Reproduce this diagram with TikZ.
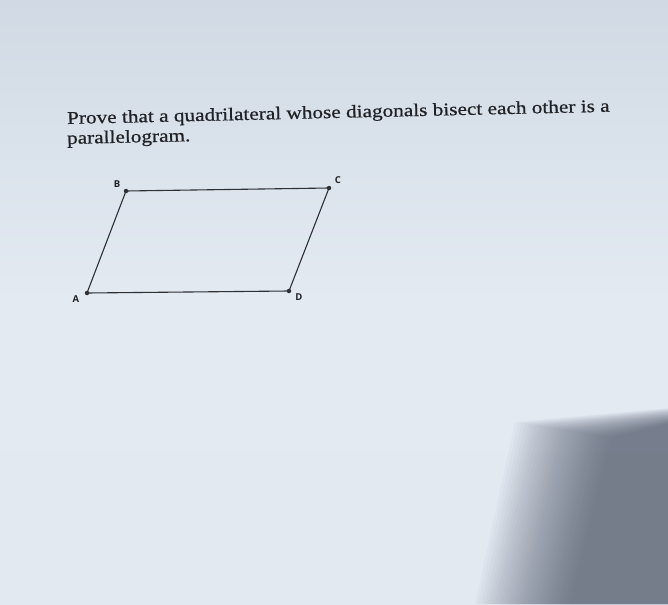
\documentclass[tikz,border=0pt]{standalone}
\usepackage{fontspec}
\setmainfont{Liberation Serif}[FakeBold=0.6]
\newfontfamily\labelfont{Open Sans}
\definecolor{bgtop}{HTML}{D1DAE4}
\definecolor{bgmid}{HTML}{E3EAF2}
\definecolor{bgbot}{HTML}{E2E9F1}
\definecolor{shadowc}{HTML}{40485A}
\definecolor{ink}{HTML}{202226}
\definecolor{pen}{HTML}{2E3034}
\tikzset{
  question/.style={anchor=base west, inner sep=0pt, text=ink, font=\fontsize{18}{21}\selectfont, rotate=1.3, xscale=1.18},
  ptlabel/.style={inner sep=0pt, text=ink, font=\labelfont\bfseries\fontsize{9.5}{10}\selectfont},
  vertex/.style={circle, fill=pen, inner sep=0pt, minimum size=4.5pt},
  edge/.style={draw=pen, line width=1.1pt}
}
\begin{document}
\begin{tikzpicture}[x=1pt,y=-1pt]
\useasboundingbox (0,0) rectangle (668,604);
\shade[top color=bgtop, bottom color=bgbot, middle color=bgmid] (0,0) rectangle (668,604);
% shadow at the bottom right
\foreach \i in {0,...,29}{
  \fill[shadowc, opacity=0.033]
    ({515+\i*3.3},{422+\i*0.55}) -- (668,{408+\i*0.55}) -- (668,604) -- ({475+\i*3.3},604) -- cycle;
}
% question text
\node[question] (t1) at (67,124) {Prove that a quadrilateral whose diagonals bisect each other is a};
\node[question] (t2) at (67,144) {parallelogram.};
% parallelogram
\node[vertex] (A) at (87,293) {};
\node[vertex] (B) at (126,191) {};
\node[vertex] (C) at (329,188) {};
\node[vertex] (D) at (289,291) {};
\draw[edge] (A.center) -- (B.center) -- (C.center) -- (D.center) -- cycle;
\node[ptlabel] (lA) at (76,299) {A};
\node[ptlabel] (lB) at (117,184) {B};
\node[ptlabel] (lC) at (338,180) {C};
\node[ptlabel] (lD) at (299,297) {D};
\end{tikzpicture}
\end{document}
